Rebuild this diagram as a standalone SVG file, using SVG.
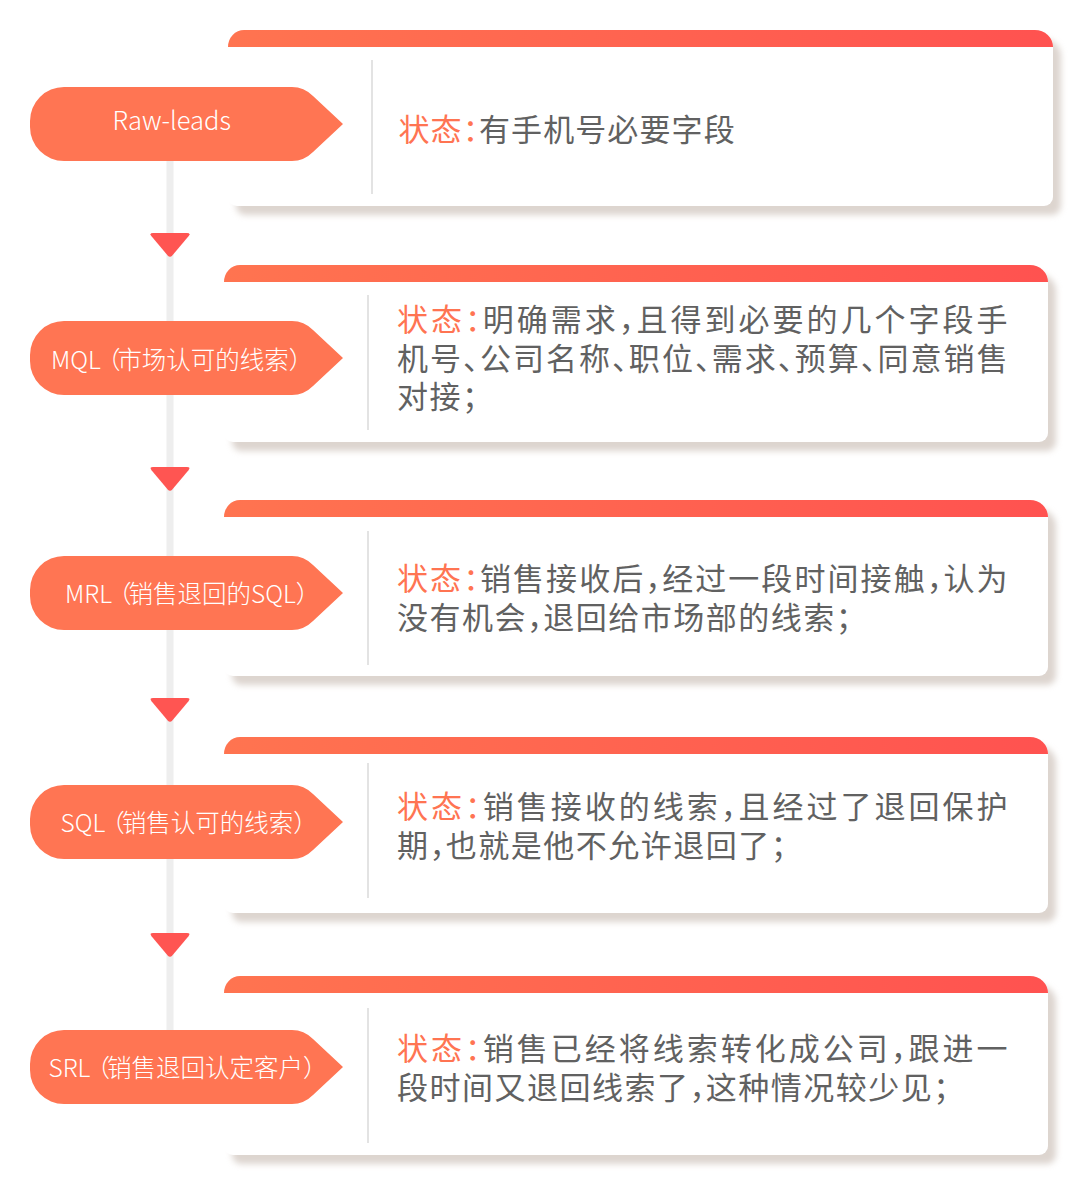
<svg xmlns="http://www.w3.org/2000/svg" width="1080" height="1202" viewBox="0 0 1080 1202">
<defs>
<linearGradient id="bar" x1="0" x2="1" y1="0" y2="0"><stop offset="0" stop-color="#FF7450"/><stop offset="1" stop-color="#FF5250"/></linearGradient>
<filter id="sh" x="-5%" y="-10%" width="115%" height="130%"><feDropShadow dx="8" dy="9" stdDeviation="3" flood-color="#d9d0ca" flood-opacity="0.9"/></filter>
</defs>
<style>
.pill{fill:#FF7553}
.pt{font-family:"Noto Sans CJK SC","Noto Sans",sans-serif;font-size:24.5px;font-weight:300;fill:#ffffff}
.pb{letter-spacing:-5px}
.pp{letter-spacing:-3px}
.bd{fill:#ffffff;filter:url(#sh)}
.bar{fill:url(#bar)}
.dv{stroke:#dadada;stroke-width:1.5}
.t{font-family:"Noto Sans CJK SC",sans-serif;font-size:31px;fill:#616161;letter-spacing:1.5px}
.k{fill:#FF7452}
.p{letter-spacing:-14.75px}
.arr{fill:#FF5552}
</style>
<rect width="1080" height="1202" fill="#ffffff"/>

<g id="card1">
<path class="bd" d="M228,47 A16,17 0 0 1 244,30 H1035 A18,17 0 0 1 1053,47 V197 A9,9 0 0 1 1044,206 H237 A9,9 0 0 1 228,197 Z"/>
<path class="bar" d="M228,47 A16,17 0 0 1 244,30 H1035 A18,17 0 0 1 1053,47 Z"/>
<line class="dv" x1="372" y1="60" x2="372" y2="194"/>
<text class="t" x="398.5" y="140.5" style="letter-spacing:1.1px"><tspan class="k">状态</tspan><tspan class="k p">：</tspan>有手机号必要字段</text>
</g>

<g id="card2">
<path class="bd" d="M224,282 A16,17 0 0 1 240,265 H1030 A18,17 0 0 1 1048,282 V433 A9,9 0 0 1 1039,442 H233 A9,9 0 0 1 224,433 Z"/>
<path class="bar" d="M224,282 A16,17 0 0 1 240,265 H1030 A18,17 0 0 1 1048,282 Z"/>
<line class="dv" x1="368" y1="295" x2="368" y2="430"/>
<text class="t" x="397" y="331" style="letter-spacing:3px"><tspan class="k">状态</tspan><tspan class="k" style="letter-spacing:-13.25px">：</tspan>明确需求<tspan style="letter-spacing:-13.25px">，</tspan>且得到必要的几个字段手</text>
<text class="t" x="397" y="369.5" style="letter-spacing:2.04px">机号<tspan style="letter-spacing:-14.21px">、</tspan>公司名称<tspan style="letter-spacing:-14.21px">、</tspan>职位<tspan style="letter-spacing:-14.21px">、</tspan>需求<tspan style="letter-spacing:-14.21px">、</tspan>预算<tspan style="letter-spacing:-14.21px">、</tspan>同意销售</text>
<text class="t" x="397" y="408">对接<tspan class="p">；</tspan></text>
</g>

<g id="card3">
<path class="bd" d="M224,517 A16,17 0 0 1 240,500 H1030 A18,17 0 0 1 1048,517 V667 A9,9 0 0 1 1039,676 H233 A9,9 0 0 1 224,667 Z"/>
<path class="bar" d="M224,517 A16,17 0 0 1 240,500 H1030 A18,17 0 0 1 1048,517 Z"/>
<line class="dv" x1="368" y1="531" x2="368" y2="665"/>
<text class="t" x="397" y="590" style="letter-spacing:2.07px"><tspan class="k">状态</tspan><tspan class="k" style="letter-spacing:-14.18px">：</tspan>销售接收后<tspan style="letter-spacing:-14.18px">，</tspan>经过一段时间接触<tspan style="letter-spacing:-14.18px">，</tspan>认为</text>
<text class="t" x="397" y="628.5">没有机会<tspan class="p">，</tspan>退回给市场部的线索<tspan class="p">；</tspan></text>
</g>

<g id="card4">
<path class="bd" d="M224,754 A16,17 0 0 1 240,737 H1030 A18,17 0 0 1 1048,754 V904 A9,9 0 0 1 1039,913 H233 A9,9 0 0 1 224,904 Z"/>
<path class="bar" d="M224,754 A16,17 0 0 1 240,737 H1030 A18,17 0 0 1 1048,754 Z"/>
<line class="dv" x1="368" y1="763" x2="368" y2="898"/>
<text class="t" x="397" y="818" style="letter-spacing:3px"><tspan class="k">状态</tspan><tspan class="k" style="letter-spacing:-13.25px">：</tspan>销售接收的线索<tspan style="letter-spacing:-13.25px">，</tspan>且经过了退回保护</text>
<text class="t" x="397" y="856.5">期<tspan class="p">，</tspan>也就是他不允许退回了<tspan class="p">；</tspan></text>
</g>

<g id="card5">
<path class="bd" d="M224,993 A16,17 0 0 1 240,976 H1030 A18,17 0 0 1 1048,993 V1146 A9,9 0 0 1 1039,1155 H233 A9,9 0 0 1 224,1146 Z"/>
<path class="bar" d="M224,993 A16,17 0 0 1 240,976 H1030 A18,17 0 0 1 1048,993 Z"/>
<line class="dv" x1="368" y1="1008" x2="368" y2="1143"/>
<text class="t" x="397" y="1060" style="letter-spacing:3px"><tspan class="k">状态</tspan><tspan class="k" style="letter-spacing:-13.25px">：</tspan>销售已经将线索转化成公司<tspan style="letter-spacing:-13.25px">，</tspan>跟进一</text>
<text class="t" x="397" y="1098.5">段时间又退回线索了<tspan class="p">，</tspan>这种情况较少见<tspan class="p">；</tspan></text>
</g>

<g id="connectors">
<rect x="166.5" y="124" width="7" height="943" fill="#eeeeee"/>
<path class="arr" d="M153,233 H187 Q191,233 188.5,236.2 L172.3,255.5 Q170,258 167.7,255.5 L151.5,236.2 Q149,233 153,233 Z"/>
<path class="arr" d="M153,467 H187 Q191,467 188.5,470.2 L172.3,489.5 Q170,492 167.7,489.5 L151.5,470.2 Q149,467 153,467 Z"/>
<path class="arr" d="M153,698 H187 Q191,698 188.5,701.2 L172.3,720.5 Q170,723 167.7,720.5 L151.5,701.2 Q149,698 153,698 Z"/>
<path class="arr" d="M153,933 H187 Q191,933 188.5,936.2 L172.3,955.5 Q170,958 167.7,955.5 L151.5,936.2 Q149,933 153,933 Z"/>
</g>

<g id="pill1">
<path class="pill" d="M64,87 H292 Q304,87 313,96 L343,124 L313,152 Q304,161 292,161 H64 A34,34 0 0 1 30,127 V121 A34,34 0 0 1 64,87 Z"/>
<text class="pt" x="112.5" y="130" style="font-size:25.5px">Raw-leads</text>
</g>
<g id="pill2">
<path class="pill" d="M64,321 H292 Q304,321 313,330 L343,358 L313,386 Q304,395 292,395 H64 A34,34 0 0 1 30,361 V355 A34,34 0 0 1 64,321 Z"/>
<text class="pt" x="51" y="369">MQ<tspan class="pb">L</tspan><tspan class="pp">（</tspan>市场认可的线索）</text>
</g>
<g id="pill3">
<path class="pill" d="M64,556 H292 Q304,556 313,565 L343,593 L313,621 Q304,630 292,630 H64 A34,34 0 0 1 30,596 V590 A34,34 0 0 1 64,556 Z"/>
<text class="pt" x="65" y="603">MR<tspan class="pb">L</tspan><tspan class="pp">（</tspan>销售退回的SQL）</text>
</g>
<g id="pill4">
<path class="pill" d="M64,785 H292 Q304,785 313,794 L343,822 L313,850 Q304,859 292,859 H64 A34,34 0 0 1 30,825 V819 A34,34 0 0 1 64,785 Z"/>
<text class="pt" x="60.5" y="832">SQ<tspan class="pb">L</tspan><tspan class="pp">（</tspan>销售认可的线索）</text>
</g>
<g id="pill5">
<path class="pill" d="M64,1030 H292 Q304,1030 313,1039 L343,1067 L313,1095 Q304,1104 292,1104 H64 A34,34 0 0 1 30,1070 V1064 A34,34 0 0 1 64,1030 Z"/>
<text class="pt" x="48.5" y="1077">SR<tspan class="pb">L</tspan><tspan class="pp">（</tspan>销售退回认定客户）</text>
</g>
</svg>
